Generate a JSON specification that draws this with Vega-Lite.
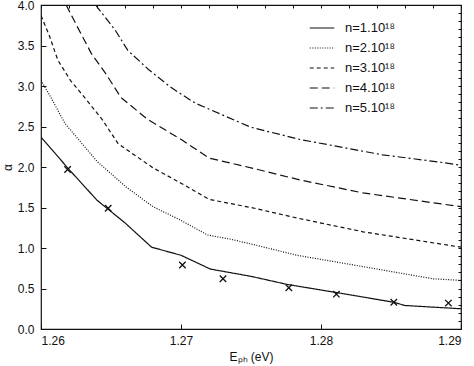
{
  "$schema": "https://vega.github.io/schema/vega-lite/v6.json",
  "width": 420,
  "height": 324,
  "autosize": {"type": "none"},
  "padding": {"left": 41, "top": 5, "right": 13, "bottom": 37},
  "background": "white",
  "config": {
    "view": {"stroke": "#111", "strokeWidth": 1.2},
    "font": "Liberation Sans",
    "axis": {"grid": false, "domain": false, "tickColor": "#111", "labelColor": "#111", "titleColor": "#111", "labelFont": "Liberation Sans", "titleFont": "Liberation Sans"}
  },
  "datasets": {
    "curves": [
      {"n": "n=1.10¹⁸", "E": 1.2600, "a": 2.37},
      {"n": "n=1.10¹⁸", "E": 1.2620, "a": 1.97},
      {"n": "n=1.10¹⁸", "E": 1.2640, "a": 1.59},
      {"n": "n=1.10¹⁸", "E": 1.2660, "a": 1.31},
      {"n": "n=1.10¹⁸", "E": 1.2679, "a": 1.01},
      {"n": "n=1.10¹⁸", "E": 1.2700, "a": 0.91},
      {"n": "n=1.10¹⁸", "E": 1.2721, "a": 0.74},
      {"n": "n=1.10¹⁸", "E": 1.2750, "a": 0.65},
      {"n": "n=1.10¹⁸", "E": 1.2776, "a": 0.55},
      {"n": "n=1.10¹⁸", "E": 1.2811, "a": 0.45},
      {"n": "n=1.10¹⁸", "E": 1.2852, "a": 0.33},
      {"n": "n=1.10¹⁸", "E": 1.2860, "a": 0.29},
      {"n": "n=1.10¹⁸", "E": 1.2900, "a": 0.25},

      {"n": "n=2.10¹⁸", "E": 1.2600, "a": 3.07},
      {"n": "n=2.10¹⁸", "E": 1.2608, "a": 2.83},
      {"n": "n=2.10¹⁸", "E": 1.2617, "a": 2.54},
      {"n": "n=2.10¹⁸", "E": 1.2640, "a": 2.07},
      {"n": "n=2.10¹⁸", "E": 1.2661, "a": 1.75},
      {"n": "n=2.10¹⁸", "E": 1.2680, "a": 1.51},
      {"n": "n=2.10¹⁸", "E": 1.2699, "a": 1.35},
      {"n": "n=2.10¹⁸", "E": 1.2719, "a": 1.16},
      {"n": "n=2.10¹⁸", "E": 1.2735, "a": 1.11},
      {"n": "n=2.10¹⁸", "E": 1.2750, "a": 1.05},
      {"n": "n=2.10¹⁸", "E": 1.2783, "a": 0.91},
      {"n": "n=2.10¹⁸", "E": 1.2830, "a": 0.77},
      {"n": "n=2.10¹⁸", "E": 1.2880, "a": 0.62},
      {"n": "n=2.10¹⁸", "E": 1.2900, "a": 0.60},

      {"n": "n=3.10¹⁸", "E": 1.2600, "a": 3.87},
      {"n": "n=3.10¹⁸", "E": 1.2606, "a": 3.62},
      {"n": "n=3.10¹⁸", "E": 1.2612, "a": 3.32},
      {"n": "n=3.10¹⁸", "E": 1.2621, "a": 3.07},
      {"n": "n=3.10¹⁸", "E": 1.2632, "a": 2.84},
      {"n": "n=3.10¹⁸", "E": 1.2644, "a": 2.58},
      {"n": "n=3.10¹⁸", "E": 1.2655, "a": 2.29},
      {"n": "n=3.10¹⁸", "E": 1.2680, "a": 1.99},
      {"n": "n=3.10¹⁸", "E": 1.2700, "a": 1.80},
      {"n": "n=3.10¹⁸", "E": 1.2720, "a": 1.60},
      {"n": "n=3.10¹⁸", "E": 1.2750, "a": 1.50},
      {"n": "n=3.10¹⁸", "E": 1.2783, "a": 1.37},
      {"n": "n=3.10¹⁸", "E": 1.2830, "a": 1.20},
      {"n": "n=3.10¹⁸", "E": 1.2900, "a": 1.01},

      {"n": "n=4.10¹⁸", "E": 1.2618, "a": 4.00},
      {"n": "n=4.10¹⁸", "E": 1.2626, "a": 3.73},
      {"n": "n=4.10¹⁸", "E": 1.2636, "a": 3.40},
      {"n": "n=4.10¹⁸", "E": 1.2646, "a": 3.16},
      {"n": "n=4.10¹⁸", "E": 1.2657, "a": 2.86},
      {"n": "n=4.10¹⁸", "E": 1.2676, "a": 2.59},
      {"n": "n=4.10¹⁸", "E": 1.2701, "a": 2.33},
      {"n": "n=4.10¹⁸", "E": 1.2720, "a": 2.11},
      {"n": "n=4.10¹⁸", "E": 1.2750, "a": 1.99},
      {"n": "n=4.10¹⁸", "E": 1.2785, "a": 1.84},
      {"n": "n=4.10¹⁸", "E": 1.2830, "a": 1.68},
      {"n": "n=4.10¹⁸", "E": 1.2900, "a": 1.51},

      {"n": "n=5.10¹⁸", "E": 1.2639, "a": 4.00},
      {"n": "n=5.10¹⁸", "E": 1.2653, "a": 3.69},
      {"n": "n=5.10¹⁸", "E": 1.2662, "a": 3.44},
      {"n": "n=5.10¹⁸", "E": 1.2677, "a": 3.20},
      {"n": "n=5.10¹⁸", "E": 1.2693, "a": 2.98},
      {"n": "n=5.10¹⁸", "E": 1.2710, "a": 2.79},
      {"n": "n=5.10¹⁸", "E": 1.2722, "a": 2.70},
      {"n": "n=5.10¹⁸", "E": 1.2750, "a": 2.49},
      {"n": "n=5.10¹⁸", "E": 1.2785, "a": 2.34},
      {"n": "n=5.10¹⁸", "E": 1.2844, "a": 2.15},
      {"n": "n=5.10¹⁸", "E": 1.2885, "a": 2.06},
      {"n": "n=5.10¹⁸", "E": 1.2900, "a": 2.02}
    ],
    "marks": [
      {"E": 1.2619, "a": 1.97},
      {"E": 1.2648, "a": 1.49},
      {"E": 1.2701, "a": 0.79},
      {"E": 1.2730, "a": 0.62},
      {"E": 1.2777, "a": 0.51},
      {"E": 1.2811, "a": 0.43},
      {"E": 1.2852, "a": 0.33},
      {"E": 1.2891, "a": 0.32}
    ]
  },
  "layer": [
    {
      "data": {"name": "curves"},
      "mark": {"type": "line", "stroke": "#111", "strokeWidth": 1.2, "clip": true},
      "encoding": {
        "x": {
          "field": "E", "type": "quantitative",
          "scale": {"domain": [1.26, 1.29], "nice": false, "zero": false},
          "axis": {"orient": "bottom", "values": [1.26, 1.27, 1.28, 1.29], "format": ".2f", "tickSize": -5, "labelPadding": 11, "labelFontSize": 12, "title": "Eₚₕ (eV)", "titleFontSize": 12, "titleFontWeight": "normal", "titlePadding": 5}
        },
        "y": {
          "field": "a", "type": "quantitative",
          "scale": {"domain": [0, 4], "nice": false},
          "axis": {"orient": "left", "values": [0, 0.5, 1, 1.5, 2, 2.5, 3, 3.5, 4], "format": ".1f", "tickSize": -5, "labelPadding": 12, "labelFontSize": 12, "title": "α", "titleFontSize": 12, "titleFontWeight": "normal", "titlePadding": 3}
        },
        "strokeDash": {
          "field": "n", "type": "nominal",
          "scale": {"domain": ["n=1.10¹⁸", "n=2.10¹⁸", "n=3.10¹⁸", "n=4.10¹⁸", "n=5.10¹⁸"], "range": [[1, 0], [1, 1.5], [4, 3], [8, 4], [8, 3, 2, 3]]},
          "legend": {"title": null, "orient": "none", "legendX": 268, "legendY": 10, "symbolType": "stroke", "symbolSize": 600, "symbolStrokeColor": "#111", "symbolStrokeWidth": 1.2, "labelFontSize": 13, "labelColor": "#111", "labelOffset": 10, "rowPadding": -10}
        }
      }
    },
    {
      "data": {"name": "marks"},
      "mark": {"type": "point", "shape": "M-1,-1L1,1M-1,1L1,-1", "size": 42, "filled": false, "stroke": "#111", "strokeWidth": 1.3, "opacity": 1},
      "encoding": {
        "x": {"field": "E", "type": "quantitative", "axis": {"orient": "top", "values": [1.26, 1.262, 1.264, 1.266, 1.268, 1.27, 1.272, 1.274, 1.276, 1.278, 1.28, 1.282, 1.284, 1.286, 1.288, 1.29], "labels": false, "tickSize": -3, "title": null}},
        "y": {"field": "a", "type": "quantitative", "axis": {"orient": "right", "values": [0, 0.1, 0.2, 0.3, 0.4, 0.5, 0.6, 0.7, 0.8, 0.9, 1, 1.1, 1.2, 1.3, 1.4, 1.5, 1.6, 1.7, 1.8, 1.9, 2, 2.1, 2.2, 2.3, 2.4, 2.5, 2.6, 2.7, 2.8, 2.9, 3, 3.1, 3.2, 3.3, 3.4, 3.5, 3.6, 3.7, 3.8, 3.9, 4], "labels": false, "tickSize": -3, "title": null}}
      }
    }
  ],
  "resolve": {"axis": {"x": "independent", "y": "independent"}}
}
